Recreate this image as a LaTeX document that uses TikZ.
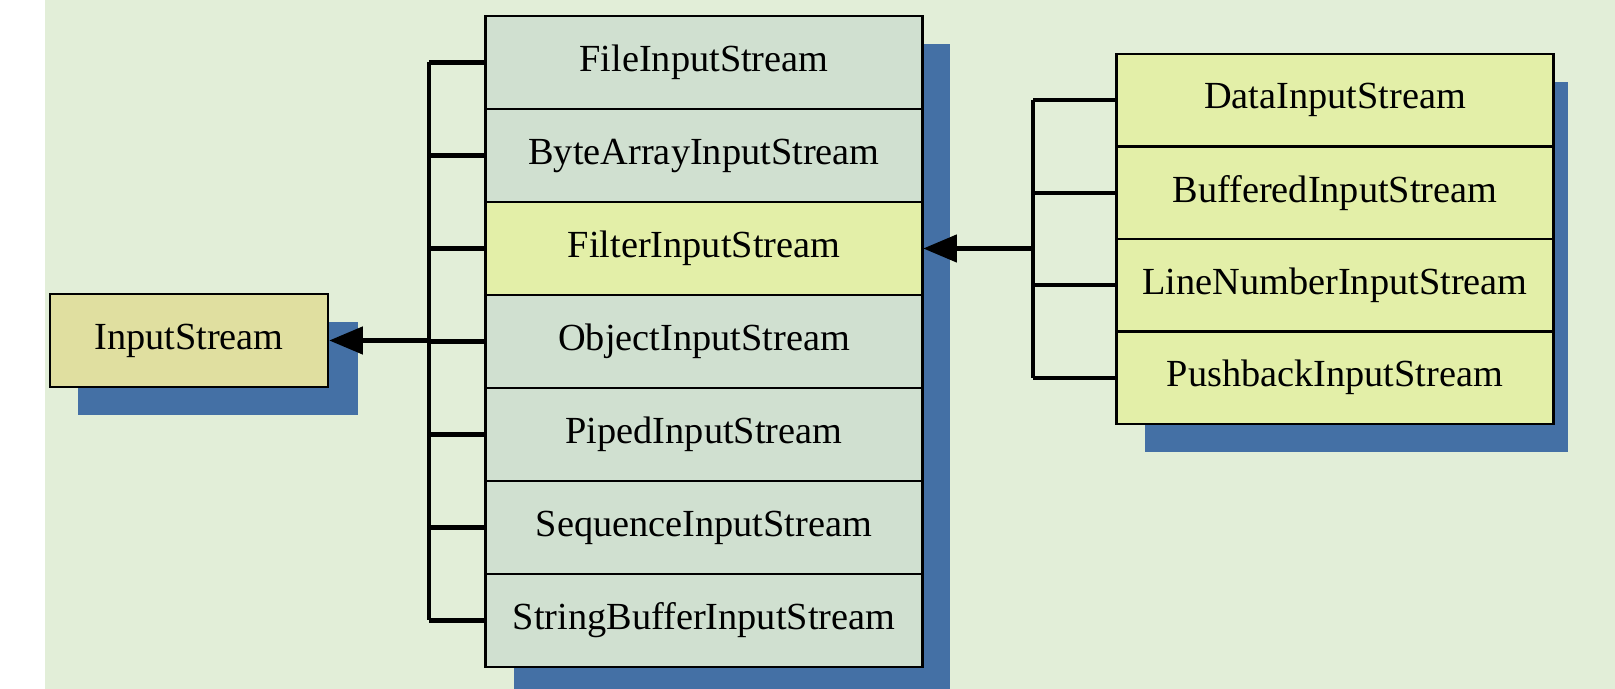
\documentclass[tikz,border=0pt]{standalone}
\usepackage{fontspec}
\setmainfont{Liberation Serif}
\usetikzlibrary{arrows}
\definecolor{bgc}{HTML}{E2EED8}
\definecolor{shadowc}{HTML}{4470A5}
\definecolor{rowc}{HTML}{D0E0D0}
\definecolor{filt}{HTML}{E3EFA8}
\definecolor{basec}{HTML}{E0DFA0}
\tikzset{
  cls/.style={draw=black, thick, fill=rowc, minimum width=4.36cm, minimum height=0.93cm,
    inner sep=0pt, font=\fontsize{10.9}{12}\selectfont},
  link/.style={very thick, black}
}
\begin{document}
\begin{tikzpicture}[x=0.01cm, y=-0.01cm]
\useasboundingbox (0,0) rectangle (1615,689);
\fill[white] (0,0) rectangle (1615,689);
\fill[bgc] (45,0) rectangle (1615,689);
% shadows
\fill[shadowc] (78,322) rectangle (358,415);
\fill[shadowc] (514,44) rectangle (950,689);
\fill[shadowc] (1145,82) rectangle (1568,452);
% base class
\node[cls, fill=basec, minimum width=2.78cm] (in) at (189,340.5) {InputStream};
% middle column
\foreach \t [count=\i] in {FileInputStream, ByteArrayInputStream, FilterInputStream,
  ObjectInputStream, PipedInputStream, SequenceInputStream, StringBufferInputStream} {
  \node[cls] (m\i) at (704, 16+93*\i-46.5) {\t};
}
\node[cls, fill=filt] at (m3) {FilterInputStream};
% right column
\foreach \t [count=\i] in {DataInputStream, BufferedInputStream,
  LineNumberInputStream, PushbackInputStream} {
  \node[cls, fill=filt, minimum height=0.925cm] (r\i) at (1335, 54+92.5*\i-46.25) {\t};
}
% left tree
\coordinate (lt) at (429,0);
\draw[link] (lt |- m1) -- (lt |- m7);
\foreach \i in {1,...,7} \draw[link] (lt |- m\i) -- (m\i.west);
\draw[link, -triangle 45] (lt |- in) -- (in.east);
% right tree
\coordinate (rt) at (1033,0);
\draw[link] (rt |- r1) -- (rt |- r4);
\foreach \i in {1,...,4} \draw[link] (rt |- r\i) -- (r\i.west);
\draw[link, -triangle 45] (rt |- m3) -- (m3.east);
\end{tikzpicture}
\end{document}
